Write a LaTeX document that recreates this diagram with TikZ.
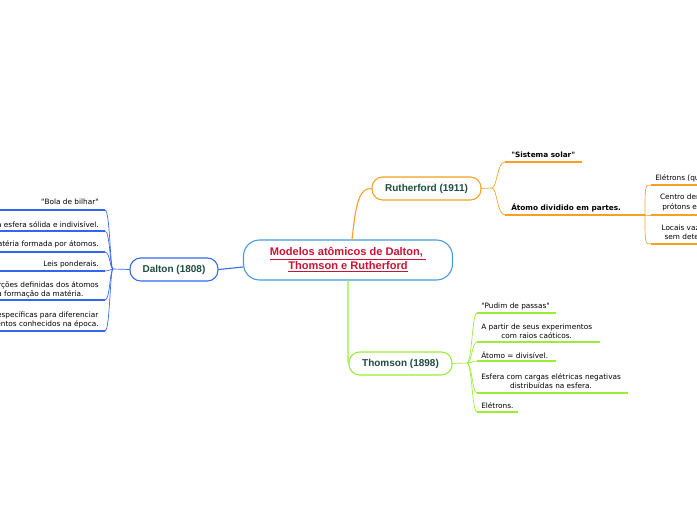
\documentclass[tikz,border=0pt]{standalone}
\usepackage{fontspec}
\setmainfont{Liberation Sans}
\newfontfamily\leaf{DejaVu Sans}
\definecolor{cb}{HTML}{3366EE}
\definecolor{co}{HTML}{F7A021}
\definecolor{cg}{HTML}{99EE33}
\definecolor{cc}{HTML}{4499DD}
\definecolor{ct}{HTML}{1E4D3C}
\definecolor{cr}{HTML}{CC1133}
\tikzset{
 x=0.75pt,y=-0.75pt,
 topic/.style={draw,rounded corners=8pt,line width=0.8pt,fill=white,font=\fontsize{7.5}{9}\selectfont\bfseries,text=ct},
 lt/.style={font=\leaf\fontsize{5.5}{7}\selectfont,inner sep=0pt,align=center},
 ul/.style={line width=1.2pt},
 cn/.style={line width=0.5pt}
}
\begin{document}
\begin{tikzpicture}
\useasboundingbox (0,0) rectangle (697,520);
\clip (0,0) rectangle (697,520);
% center
\node[draw=cc,line width=0.8pt,rounded corners=12pt,minimum width=209*0.75pt,minimum height=40*0.75pt,align=center,font=\fontsize{8.3}{10.5}\selectfont\bfseries,text=cr] (c) at (348,260) {$\underline{\hbox{Modelos atômicos de Dalton,\ }}$\\$\underline{\hbox{Thomson e Rutherford}}$};
\node[topic,draw=cb,minimum width=88*0.75pt,minimum height=23*0.75pt] (d) at (174,269.5) {Dalton (1808)};
\node[topic,draw=co,minimum width=109*0.75pt,minimum height=23*0.75pt] (r) at (426.5,188.5) {Rutherford (1911)};
\node[topic,draw=cg,minimum width=103*0.75pt,minimum height=23*0.75pt] (t) at (400.5,363.5) {Thomson (1898)};
\draw[cb,line width=0.8pt] (d.east) -- (c.west |- 0,267);
\draw[co,line width=0.8pt] (352,240) .. controls (356,200) and (360,188) .. (r.west);
\draw[cg,line width=0.8pt] (348,280) -- (348,360) .. controls (348,363) .. (t.west);
% Dalton leaves
\coordinate (dh) at (113,269);
\draw[cb,cn] (d.west) -- (dh);
\foreach \y/\l in {210/a,231/b,252/c,271/d,300/e,331/f}{
 \coordinate (dl\l) at (105,\y);
 \draw[cb,cn] (dh) .. controls (110,269) and (110,\y) .. (dl\l);
 \draw[cb,ul] (0,\y) -- (dl\l);}
\node[lt,anchor=east] (d1) at (99,202) {"Bola de bilhar"};
\node[lt,anchor=east] (d2) at (99,224) {Átomo é uma esfera sólida e indivisível.};
\node[lt,anchor=east] (d3) at (99,244) {Matéria formada por átomos.};
\node[lt,anchor=east] (d4) at (99,264) {Leis ponderais.};
\node[lt,anchor=east] (d5) at (99,289.5) {Proporções definidas dos átomos\\na formação da matéria.};
\node[lt,anchor=east] (d6) at (99,320) {Massas específicas para diferenciar\\os elementos conhecidos na época.};
% Rutherford leaves
\coordinate (rh) at (492,188);
\draw[co,cn] (r.east) -- (rh);
\coordinate (r1) at (505,162); \coordinate (r2) at (505,215);
\draw[co,cn] (rh) .. controls (497,188) and (497,162) .. (r1);
\draw[co,cn] (rh) .. controls (497,188) and (497,215) .. (r2);
\draw[co,ul] (r1) -- (582,162);
\draw[co,ul] (r2) -- (645,215);
\node[lt,anchor=west,font=\leaf\fontsize{5.5}{7}\selectfont\bfseries] (rt1) at (511,155) {"Sistema solar"};
\node[lt,anchor=west,font=\leaf\fontsize{5.5}{7}\selectfont\bfseries] (rt2) at (511,207.5) {Átomo dividido em partes.};
\foreach \y/\l in {185/a,215/b,244/c}{
 \coordinate (s\l) at (651,\y);
 \draw[co,cn] (645,215) .. controls (645,\y) and (645,\y) .. (s\l);
 \draw[co,ul] (s\l) -- (697,\y);}
\node[lt,anchor=west] (s1) at (655,178) {Elétrons (quase sem massa)};
\node[lt,anchor=west] (s2) at (655,202.5) {Centro denso com\\\ \ \ prótons e nêutrons};
\node[lt,anchor=west] (s3) at (655,233) {Locais vazios\\\ \ \ \ sem detecção};
% Thomson leaves
\coordinate (th) at (467,363);
\draw[cg,cn] (t.east) -- (th);
\foreach \y/\e/\l in {313/556/a,342/600/b,361/556/c,393/628/d,412/518/e}{
 \coordinate (tl\l) at (477,\y);
 \draw[cg,cn] (th) .. controls (472,363) and (472,\y) .. (tl\l);
 \draw[cg,ul] (tl\l) -- (\e,\y);}
\node[lt,anchor=west] (t1) at (481,306) {"Pudim de passas"};
\node[lt,anchor=west] (t2) at (481,331) {A partir de seus experimentos\\com raios caóticos.};
\node[lt,anchor=west] (t3) at (481,355) {Átomo = divisível.};
\node[lt,anchor=west] (t4) at (481,381) {Esfera com cargas elétricas negativas\\distribuídas na esfera.};
\node[lt,anchor=west] (t5) at (481,406) {Elétrons.};
\end{tikzpicture}
\end{document}
